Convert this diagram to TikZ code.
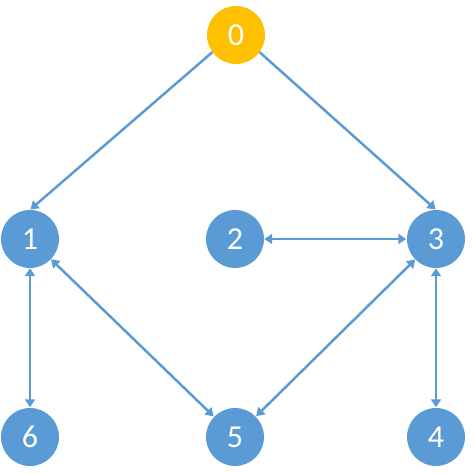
\documentclass[tikz,border=0pt]{standalone}
\usepackage{fontspec}
\setmainfont{Carlito}
\usetikzlibrary{arrows.meta}

\definecolor{nodeblue}{HTML}{5B9BD5}
\definecolor{rootgold}{HTML}{FFC000}

\tikzset{
  vertex/.style={circle, fill=nodeblue, minimum size=58pt, inner sep=0pt,
    text=white, font=\fontsize{32}{32}\selectfont},
  edge/.style={draw=nodeblue, line width=2.5pt,
    -{Triangle[length=8pt,width=10pt]}, shorten >=0.5pt},
  twoway/.style={edge, {Triangle[length=8pt,width=10pt]}-{Triangle[length=8pt,width=10pt]}}
}

\begin{document}
\begin{tikzpicture}[x=1pt, y=1pt]
  \useasboundingbox (0,0) rectangle (474,474); % keep the page square

  \node[vertex, fill=rootgold] (n0) at (236,439) {0};
  \foreach \i/\x/\y in {1/30/235, 2/235/235, 3/436/235, 6/30/37, 5/235/37, 4/436/37} {
    \node[vertex] (n\i) at (\x,\y) {\i};
  }

  \draw[edge] (n0.216) -- (n1.north);
  \draw[edge] (n0.324) -- (n3.north);
  \draw[twoway] (n2) -- (n3);
  \draw[twoway] (n1) -- (n5);
  \draw[twoway] (n3) -- (n5);
  \draw[twoway] (n1) -- (n6);
  \draw[twoway] (n3) -- (n4);
\end{tikzpicture}
\end{document}
